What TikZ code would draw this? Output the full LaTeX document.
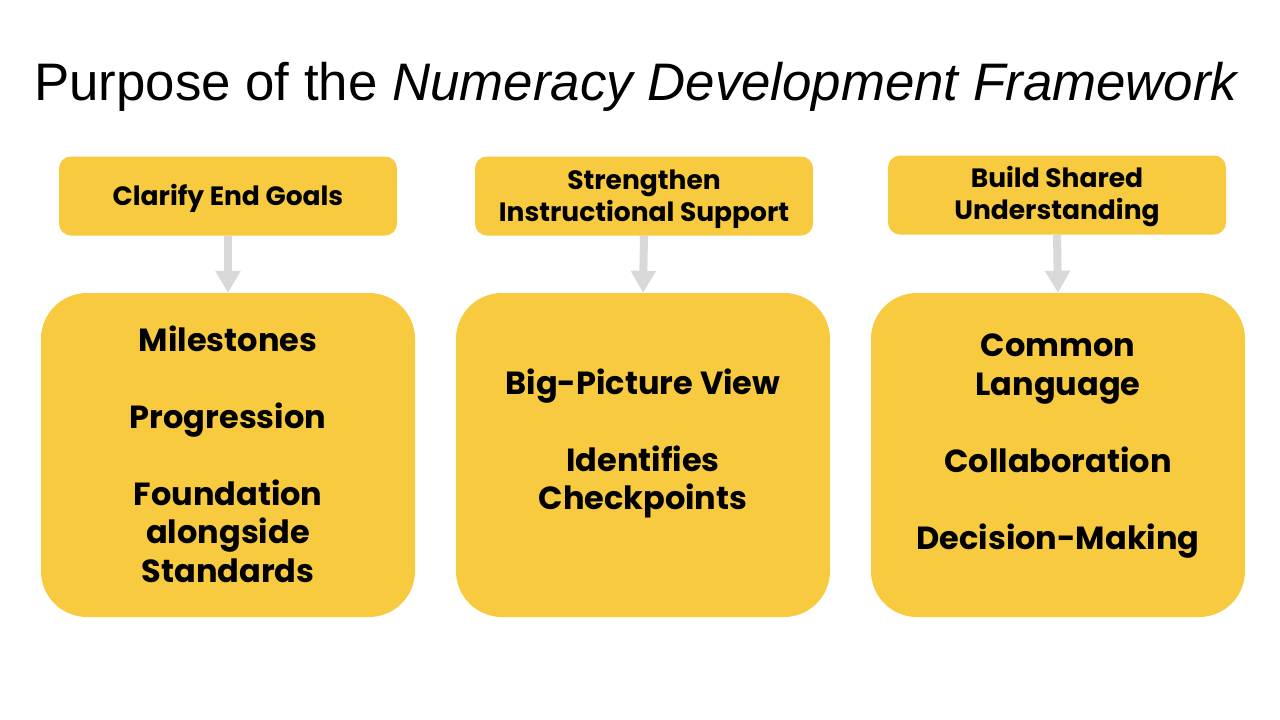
\documentclass[tikz,border=0pt]{standalone}
\usepackage{fontspec}
\setmainfont{Liberation Sans}
\newfontfamily\boxfont{Poppins}[UprightFont=* Bold]
\usetikzlibrary{arrows.meta}
\definecolor{gold}{HTML}{F7CA40}
\definecolor{arrowgray}{HTML}{D9D9D9}
\begin{document}
\begin{tikzpicture}[x=1pt,y=-1pt,
  headbox/.style={fill=gold, rounded corners=12pt, minimum width=338pt, minimum height=79pt, inner sep=0pt},
  bigbox/.style={fill=gold, rounded corners=46pt, minimum width=374pt, minimum height=324pt, inner sep=0pt},
  headtxt/.style={font=\boxfont\fontsize{26.5}{32}\selectfont, align=center, inner sep=0pt},
  bodytxt/.style={font=\boxfont\fontsize{32}{38.5}\selectfont, align=center, inner sep=0pt},
  conn/.style={draw=arrowgray, line width=8pt, -{Triangle[width=24pt,length=22pt]}}
]
\useasboundingbox (0,0) rectangle (1280,720);
\fill[white] (0,0) rectangle (1280,720);
\node[anchor=base, inner sep=0pt, font=\fontsize{52.8}{60}\selectfont] (title) at (637,100) {Purpose of the \textit{Numeracy Development Framework}};

\node[headbox] (h1) at (228,196) {};
\node[headbox] (h2) at (644,196) {};
\node[headbox] (h3) at (1057,195) {};
\node[bigbox] (b1) at (228,455) {};
\node[bigbox] (b2) at (643,455) {};
\node[bigbox] (b3) at (1058,455) {};

\node[headtxt] (t1) at (228,198) {Clarify End Goals};
\node[headtxt] (t2) at (644,199) {Strengthen\\Instructional Support};
\node[headtxt] (t3) at (1057,197) {Build Shared\\Understanding};

\draw[conn] (h1.south) -- (b1.north);
\draw[conn] (h2.south) -- (b2.north);
\draw[conn] (h3.south) -- (b3.north);

\node[bodytxt] (l1) at (228,454) {Milestones\\[38.5pt]Progression\\[38.5pt]Foundation\\alongside\\Standards};
\node[bodytxt] (l2) at (643,443.5) {Big-Picture View\\[38.5pt]Identifies\\Checkpoints};
\node[bodytxt] (l3) at (1058,446) {Common\\Language\\[38.5pt]Collaboration\\[38.5pt]Decision-Making};
\end{tikzpicture}
\end{document}
